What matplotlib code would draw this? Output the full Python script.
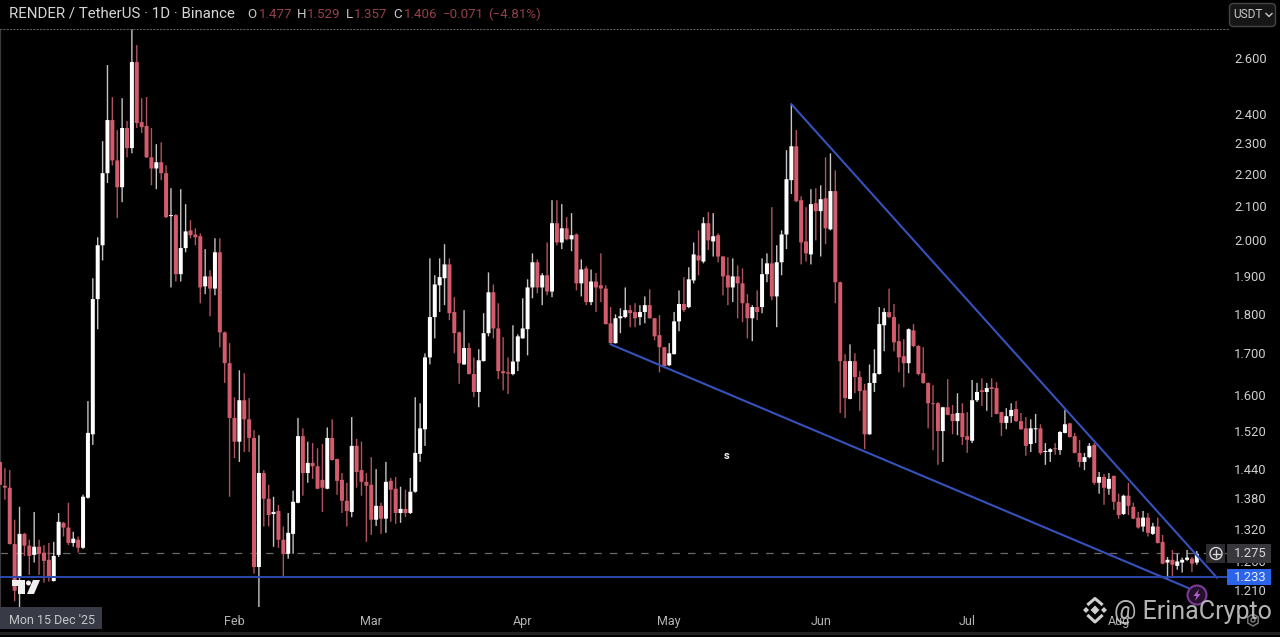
import numpy as np
import matplotlib
matplotlib.use("Agg")
import matplotlib.pyplot as plt
from matplotlib.patches import Circle, FancyBboxPatch, Polygon, Rectangle, RegularPolygon

plt.rcParams['font.family'] = ['Roboto', 'DejaVu Sans']

# daily candles
opens = [
    1.454,1.405,1.401,1.292,1.231,1.311,1.289,1.272,1.287,1.276,
    1.263,1.225,1.272,1.332,1.323,1.294,1.300,1.285,1.381,1.513,
    1.838,1.986,2.203,2.378,2.244,2.159,2.351,2.284,2.585,2.371,
    2.358,2.254,2.218,2.238,2.203,2.071,2.074,1.905,1.978,2.029,
    2.017,2.012,1.872,1.899,1.866,1.966,1.752,1.676,1.549,1.497,
    1.589,1.546,1.505,1.250,1.431,1.379,1.349,1.355,1.300,1.274,
    1.311,1.371,1.509,1.431,1.452,1.445,1.417,1.399,1.505,1.460,
    1.417,1.375,1.353,1.488,1.437,1.413,1.407,1.338,1.365,1.340,
    1.415,1.399,1.351,1.359,1.351,1.393,1.471,1.524,1.690,1.791,
    1.875,1.894,1.932,1.804,1.752,1.673,1.713,1.650,1.608,1.681,
    1.750,1.856,1.762,1.657,1.654,1.650,1.680,1.737,1.760,1.869,
    1.938,1.869,1.902,1.858,2.050,1.994,2.035,2.003,2.017,1.880,
    1.921,1.830,1.885,1.875,1.866,1.775,1.725,1.788,1.791,1.809,
    1.804,1.791,1.804,1.822,1.788,1.745,1.715,1.671,1.698,1.780,
    1.825,1.817,1.888,1.957,1.940,2.050,1.997,2.015,1.954,1.902,
    1.869,1.899,1.880,1.827,1.788,1.817,1.817,1.905,1.935,1.845,
    1.938,2.017,2.181,2.290,2.119,1.997,1.960,2.110,2.086,2.125,
    2.032,2.147,1.883,1.681,1.592,1.681,1.643,1.612,1.513,1.629,
    1.650,1.770,1.804,1.791,1.730,1.693,1.676,1.757,1.718,1.652,
    1.629,1.582,1.582,1.520,1.573,1.558,1.542,1.560,1.509,1.499,
    1.589,1.612,1.608,1.619,1.617,1.562,1.538,1.553,1.569,1.542,
    1.526,1.492,1.524,1.526,1.475,1.475,1.483,1.479,1.516,1.537,
    1.509,1.473,1.454,1.464,1.490,1.411,1.423,1.399,1.425,1.373,
    1.349,1.385,1.363,1.342,1.325,1.342,1.311,1.325,1.296,1.258,
    1.263,1.252,1.258,1.263,1.265,1.258,
]
highs = [
    1.475,1.441,1.437,1.338,1.363,1.313,1.300,1.353,1.300,1.290,
    1.294,1.296,1.351,1.334,1.371,1.315,1.306,1.387,1.587,1.894,
    2.009,2.307,2.574,2.458,2.344,2.454,2.375,2.711,2.649,2.454,
    2.458,2.351,2.297,2.303,2.228,2.156,2.077,2.153,2.107,2.059,
    2.035,2.020,1.975,1.916,2.006,2.006,1.754,1.725,1.596,1.659,
    1.652,1.594,1.522,1.511,1.437,1.407,1.383,1.367,1.325,1.351,
    1.395,1.549,1.526,1.497,1.494,1.483,1.492,1.528,1.546,1.461,
    1.431,1.411,1.551,1.503,1.497,1.431,1.464,1.439,1.371,1.454,
    1.421,1.423,1.403,1.397,1.421,1.596,1.582,1.700,1.949,1.902,
    1.949,1.989,1.949,1.843,1.754,1.809,1.725,1.690,1.710,1.801,
    1.910,1.877,1.827,1.740,1.690,1.770,1.747,1.840,1.891,1.963,
    1.946,1.908,1.994,2.119,2.119,2.107,2.068,2.080,2.020,1.946,
    1.927,1.918,1.908,1.963,1.875,1.817,1.798,1.814,1.869,1.822,
    1.827,1.822,1.845,1.864,1.789,1.796,1.716,1.725,1.804,1.861,
    1.897,1.924,1.994,2.029,2.068,2.083,2.080,2.020,1.956,1.952,
    1.949,1.929,1.921,1.851,1.822,1.861,1.949,1.963,2.098,1.986,
    2.029,2.277,2.433,2.344,2.131,2.098,2.153,2.156,2.165,2.254,
    2.267,2.212,1.885,1.698,1.722,1.700,1.657,1.627,1.673,1.710,
    1.817,1.814,1.866,1.825,1.773,1.735,1.762,1.773,1.720,1.715,
    1.630,1.624,1.585,1.574,1.638,1.578,1.605,1.582,1.562,1.636,
    1.629,1.640,1.629,1.640,1.631,1.563,1.571,1.582,1.587,1.560,
    1.551,1.546,1.558,1.535,1.494,1.483,1.494,1.520,1.567,1.538,
    1.516,1.501,1.473,1.494,1.494,1.433,1.429,1.431,1.426,1.389,
    1.387,1.411,1.371,1.353,1.355,1.351,1.332,1.342,1.309,1.268,
    1.281,1.274,1.267,1.281,1.268,1.279,
]
lows = [
    1.405,1.377,1.291,1.190,1.180,1.270,1.236,1.258,1.236,1.222,
    1.224,1.224,1.268,1.306,1.290,1.287,1.276,1.283,1.379,1.490,
    1.760,1.943,2.172,2.228,2.065,2.113,2.254,2.267,2.351,2.334,
    2.252,2.165,2.153,2.181,2.065,1.869,1.885,1.885,1.966,2.006,
    1.986,1.827,1.851,1.793,1.848,1.715,1.629,1.383,1.462,1.454,
    1.475,1.475,1.238,1.180,1.325,1.325,1.287,1.285,1.234,1.265,
    1.274,1.370,1.385,1.411,1.419,1.398,1.353,1.398,1.457,1.387,
    1.351,1.325,1.343,1.401,1.385,1.296,1.309,1.326,1.311,1.313,
    1.334,1.330,1.332,1.343,1.349,1.391,1.454,1.488,1.673,1.737,
    1.804,1.822,1.783,1.700,1.627,1.672,1.649,1.596,1.573,1.680,
    1.742,1.737,1.638,1.612,1.603,1.647,1.657,1.736,1.695,1.840,
    1.853,1.822,1.848,1.843,1.986,1.975,2.000,1.969,1.861,1.845,
    1.822,1.822,1.804,1.830,1.772,1.724,1.724,1.750,1.788,1.765,
    1.765,1.770,1.775,1.787,1.732,1.654,1.664,1.669,1.697,1.755,
    1.804,1.814,1.880,1.902,1.935,1.972,1.954,1.938,1.848,1.822,
    1.830,1.788,1.778,1.737,1.730,1.783,1.801,1.883,1.835,1.765,
    1.902,1.975,2.138,2.113,1.932,1.940,1.932,2.000,1.954,1.989,
    2.029,1.827,1.560,1.549,1.591,1.605,1.565,1.481,1.512,1.608,
    1.649,1.705,1.788,1.705,1.654,1.619,1.652,1.715,1.647,1.627,
    1.526,1.479,1.448,1.454,1.555,1.513,1.511,1.490,1.473,1.494,
    1.585,1.576,1.565,1.551,1.557,1.509,1.524,1.538,1.540,1.523,
    1.467,1.475,1.494,1.469,1.448,1.454,1.469,1.469,1.515,1.506,
    1.472,1.443,1.437,1.462,1.407,1.389,1.367,1.387,1.357,1.340,
    1.347,1.347,1.339,1.321,1.315,1.306,1.309,1.293,1.255,1.227,
    1.234,1.245,1.240,1.261,1.241,1.254,
]
closes = [
    1.407,1.401,1.292,1.208,1.311,1.289,1.270,1.287,1.274,1.261,
    1.231,1.270,1.334,1.323,1.294,1.302,1.285,1.383,1.516,1.838,
    1.986,2.203,2.378,2.244,2.159,2.351,2.284,2.585,2.368,2.354,
    2.254,2.218,2.238,2.203,2.068,2.074,1.905,1.978,2.026,2.015,
    2.009,1.869,1.899,1.866,1.966,1.752,1.676,1.549,1.497,1.589,
    1.546,1.505,1.250,1.431,1.379,1.347,1.353,1.300,1.274,1.313,
    1.373,1.509,1.431,1.452,1.445,1.399,1.401,1.505,1.458,1.415,
    1.375,1.355,1.488,1.433,1.413,1.405,1.338,1.365,1.340,1.413,
    1.397,1.351,1.359,1.351,1.393,1.473,1.526,1.690,1.791,1.877,
    1.897,1.932,1.801,1.750,1.676,1.713,1.650,1.608,1.683,1.750,
    1.856,1.762,1.657,1.652,1.651,1.680,1.742,1.762,1.869,1.938,
    1.869,1.902,1.858,2.050,1.994,2.035,2.003,2.015,1.880,1.918,
    1.830,1.885,1.869,1.866,1.773,1.725,1.788,1.793,1.809,1.801,
    1.788,1.804,1.822,1.788,1.742,1.715,1.669,1.700,1.780,1.825,
    1.809,1.891,1.960,1.943,2.050,2.000,2.012,1.954,1.899,1.869,
    1.899,1.880,1.827,1.788,1.817,1.804,1.905,1.935,1.845,1.938,
    2.017,2.184,2.290,2.116,1.994,1.963,2.107,2.086,2.122,2.035,
    2.147,1.883,1.681,1.594,1.681,1.643,1.610,1.513,1.629,1.652,
    1.773,1.804,1.791,1.727,1.690,1.676,1.760,1.718,1.650,1.629,
    1.582,1.580,1.520,1.573,1.556,1.542,1.560,1.507,1.501,1.589,
    1.608,1.608,1.617,1.615,1.558,1.538,1.553,1.567,1.542,1.524,
    1.488,1.526,1.526,1.473,1.477,1.481,1.481,1.518,1.535,1.507,
    1.473,1.454,1.464,1.488,1.411,1.423,1.401,1.419,1.373,1.347,
    1.385,1.365,1.340,1.323,1.342,1.313,1.325,1.294,1.256,1.263,
    1.254,1.260,1.263,1.267,1.256,1.274,
]

price_ticks = [2.6, 2.4, 2.3, 2.2, 2.1, 2.0, 1.9, 1.8, 1.7, 1.6, 1.52, 1.44, 1.38, 1.32, 1.26, 1.21]
month_bars = [48, 76, 107, 137, 168, 198, 229]
month_labels = ['Feb', 'Mar', 'Apr', 'May', 'Jun', 'Jul', 'Aug']

# drawn lines: bar number, price
upper_trend_bars = [162, 249.1]
upper_trend_prices = [2.433, 1.231]
lower_trend_bars = [125, 243.2]
lower_trend_prices = [1.722, 1.213]
support_price = 1.233
last_price = 1.275

WHITE_BODY = '#ffffff'
WHITE_WICK = '#c4c4c4'
RED_BODY = '#d25c6b'
RED_WICK = '#b2545f'
BLUE = '#3552bd'
W, H = 1280, 637
BAR_PX = 4.885
PANE_RIGHT, PANE_TOP, PANE_BOTTOM = 1228, 29, 612

fig = plt.figure(figsize=(W / 100, H / 100), dpi=100, facecolor='black')
ax = fig.add_axes([0, (H - PANE_BOTTOM) / H, PANE_RIGHT / W, (PANE_BOTTOM - PANE_TOP) / H])
ax.set_facecolor('black')

x = np.arange(len(opens))
o, h, l, c = map(np.array, (opens, highs, lows, closes))
up = c >= o

ax.axhline(last_price, color='#6a6a6a', lw=0.9, ls=(0, (6, 6.5)), zorder=1)

# no pixel snapping, otherwise the bodies come out with uneven widths
wicks_up = ax.vlines(x[up], l[up], h[up], color=WHITE_WICK, lw=1.0, zorder=2)
wicks_down = ax.vlines(x[~up], l[~up], h[~up], color=RED_WICK, lw=1.0, zorder=2)
wicks_up.set_snap(False)
wicks_down.set_snap(False)
bars_up = ax.bar(x[up], (c - o)[up], bottom=o[up], width=0.82, color=WHITE_BODY, lw=0, zorder=3)
bars_down = ax.bar(x[~up], (o - c)[~up], bottom=c[~up], width=0.82, color=RED_BODY, lw=0, zorder=3)
for b in list(bars_up) + list(bars_down):
    b.set_snap(False)

ax.plot(upper_trend_bars, upper_trend_prices, color=BLUE, lw=1.5, zorder=4)
ax.plot(lower_trend_bars, lower_trend_prices, color=BLUE, lw=1.5, zorder=4)
ax.axhline(support_price, color='#2c48ad', lw=1.4, zorder=4)

ax.set_xlim(0, PANE_RIGHT / BAR_PX)
ax.set_yscale('log')
ax.set_ylim(1.1716, 2.711)
ax.minorticks_off()
ax.set_yticks(price_ticks)
ax.set_yticklabels([f'{p:.3f}' for p in price_ticks])
ax.yaxis.tick_right()
ax.set_xticks(month_bars)
ax.set_xticklabels(month_labels)
ax.tick_params(axis='y', length=0, pad=4.5, labelsize=9.4, labelcolor='#cfcfcf')
ax.tick_params(axis='x', length=0, pad=2, labelsize=9, labelcolor='#b4b4b4')
for side in ('right', 'bottom'):
    ax.spines[side].set_visible(False)
ax.spines['top'].set_color('#5a5a5a')
ax.spines['top'].set_linestyle((0, (1, 2)))
ax.spines['top'].set_linewidth(0.8)
ax.spines['left'].set_color('#3a3a3a')

# chart furniture sits on a second axes in picture pixels
ov = fig.add_axes([0, 0, 1, 1], zorder=5)
ov.set_xlim(0, W)
ov.set_ylim(H, 0)
ov.axis('off')

ov.plot([0, W], [633, 633], color='#242424', lw=2)

# header
ov.text(9, 14, 'RENDER / TetherUS · 1D · Binance', color='#d6d6d6', fontsize=10.8, va='center')
for xp, txt, col in [(247, 'O', '#c8c8c8'), (259, '1.477', '#93404b'),
                     (297, 'H', '#c8c8c8'), (307, '1.529', '#93404b'),
                     (346, 'L', '#c8c8c8'), (354, '1.357', '#93404b'),
                     (393, 'C', '#c8c8c8'), (404, '1.406', '#93404b'),
                     (443, '\u22120.071', '#93404b'), (488, '(\u22124.81%)', '#93404b')]:
    ov.text(xp, 14.5, txt, color=col, fontsize=9.6, va='center')

# currency button
ov.add_patch(FancyBboxPatch((1231, 5), 43, 20, boxstyle='round,pad=1.5,rounding_size=4',
                            fc='#161616', ec='#454545', lw=1))
ov.text(1233.5, 15, 'USDT', color='#c8c8c8', fontsize=8.6, va='center')
ov.plot([1266, 1269, 1272], [13.5, 16.5, 13.5], color='#c8c8c8', lw=1)

# price badges
ov.add_patch(Rectangle((1227, 544), 44, 19, fc='#38383c', ec='none'))
ov.text(1250, 553.5, '1.275', color='#d8d8d8', fontsize=9.4, ha='center', va='center')
ov.add_patch(Rectangle((1206, 544), 19, 19, fc='#2b2b30', ec='none'))
ov.add_patch(Circle((1216, 553.5), 6, fc='none', ec='#d8d8d8', lw=1))
ov.plot([1212.5, 1219.5], [553.5, 553.5], color='#d8d8d8', lw=1)
ov.plot([1216, 1216], [550, 557], color='#d8d8d8', lw=1)
ov.add_patch(Rectangle((1227, 569), 44, 16, fc='#2b64e8', ec='none'))
ov.text(1250, 577.5, '1.233', color='#e8eefc', fontsize=9.4, ha='center', va='center')

# crosshair date
ov.add_patch(Rectangle((0, 607), 102, 22, fc='#383b45', ec='none'))
ov.text(9, 620, "Mon 15 Dec '25", color='#c4c6cc', fontsize=9, va='center')

# tv logo
ov.add_patch(Polygon([(12, 580), (25, 580), (25, 594), (17.5, 594), (17.5, 586), (12, 586)], fc='#f0f0f0', ec='none'))
ov.add_patch(Circle((28.5, 583), 2.5, fc='#f0f0f0', ec='none'))
ov.add_patch(Polygon([(33, 580), (40, 580), (34, 594), (27, 594)], fc='#f0f0f0', ec='none'))

# stray mark in the middle of the chart
ov.text(727, 456, 's', color='#f0f0f0', fontsize=8, fontweight='bold', ha='center', va='center')

# alert bolt
ov.add_patch(Circle((1197, 595), 9.5, fc='#241029', ec='#7b3a96', lw=1.5))
ov.add_patch(Polygon([(1199, 589), (1193.5, 596), (1196.5, 596), (1195, 601), (1200.5, 594), (1197.5, 594)],
                     fc='#b35fd0', ec='none'))

# settings hexagon
ov.add_patch(RegularPolygon((1253, 620), 6, radius=6, fc='none', ec='#808080', lw=1))
ov.add_patch(Circle((1253, 620), 2, fc='none', ec='#808080', lw=1))

# watermark
wm = '#cfcfcf'
ov.add_patch(Polygon([(1095, 605.5), (1099.5, 610), (1095, 614.5), (1090.5, 610)], fc=wm, ec='none'))
ov.add_patch(Polygon([(1086, 607), (1089, 610), (1086, 613), (1083, 610)], fc=wm, ec='none'))
ov.add_patch(Polygon([(1104, 607), (1107, 610), (1104, 613), (1101, 610)], fc=wm, ec='none'))
ov.plot([1088.5, 1095, 1101.5], [604, 598.5, 604], color=wm, lw=2.2)
ov.plot([1088.5, 1095, 1101.5], [616, 622, 616], color=wm, lw=2.2)
ov.text(1114, 612, '@ ErinaCrypto', color='#c4c4c4', fontsize=18, va='center', alpha=0.92)

fig.savefig('out.png', dpi=100, facecolor='black')
